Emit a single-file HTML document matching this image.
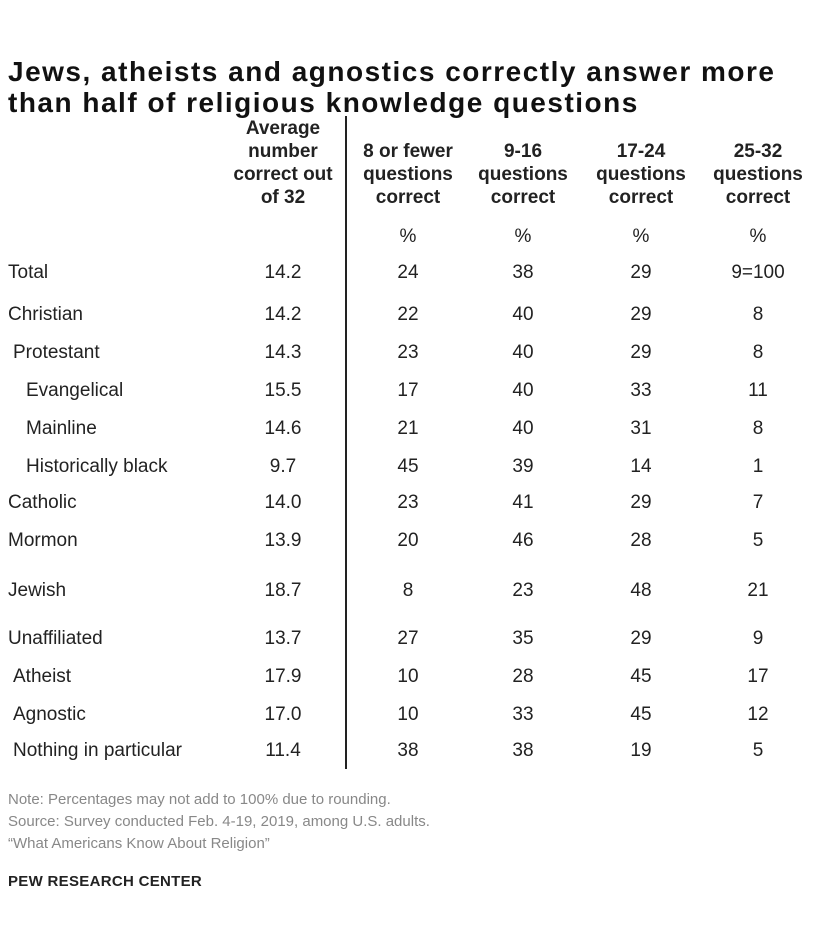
<!DOCTYPE html>
<html><head><meta charset="utf-8">
<style>
body{margin:0;width:836px;height:930px;background:#fff;font-family:"Liberation Sans",Arial,sans-serif;color:#222;position:relative;overflow:hidden}
.a{position:absolute;white-space:nowrap}
.t{font-size:28px;font-weight:bold;line-height:31px;left:8px;top:56px;color:#111;letter-spacing:1.5px}
.h{font-size:19px;font-weight:bold;line-height:23px;text-align:center;transform:translateX(-50%)}
.c{font-size:19px;transform:translate(-50%,-50%)}
.l{font-size:19px;transform:translateY(-50%)}
.n{font-size:15px;color:#888;left:8px}
</style></head><body>
<div class="a t">Jews, atheists and agnostics correctly answer more<br>than half of religious knowledge questions</div>
<div class="a h" style="left:283px;top:117px">Average<br>number<br>correct out<br>of 32</div>
<div class="a h" style="left:408px;top:140px">8 or fewer<br>questions<br>correct</div>
<div class="a h" style="left:523px;top:140px">9-16<br>questions<br>correct</div>
<div class="a h" style="left:641px;top:140px">17-24<br>questions<br>correct</div>
<div class="a h" style="left:758px;top:140px">25-32<br>questions<br>correct</div>
<div class="a" style="left:345px;top:116px;width:2px;height:653px;background:#222"></div>
<div id="tbl"></div>
<div class="a n" style="top:791px">Note: Percentages may not add to 100% due to rounding.</div>
<div class="a n" style="top:813px">Source: Survey conducted Feb. 4-19, 2019, among U.S. adults.</div>
<div class="a n" style="top:835px">“What Americans Know About Religion”</div>
<div class="a" style="left:8px;top:873px;font-size:15px;font-weight:bold;color:#222;letter-spacing:0.3px">PEW RESEARCH CENTER</div>
<script>
const labels=["Total","Christian","Protestant","Evangelical","Mainline","Historically black","Catholic","Mormon","Jewish","Unaffiliated","Atheist","Agnostic","Nothing in particular"];
const indents=[0,0,5,18,18,18,0,0,0,0,5,5,5];
const rowY=[273,315,353,391,429,467,503,541,591,639,677,715,751];
const avg=["14.2","14.2","14.3","15.5","14.6","9.7","14.0","13.9","18.7","13.7","17.9","17.0","11.4"];
const low=["24","22","23","17","21","45","23","20","8","27","10","10","38"];
const mid=["38","40","40","40","40","39","41","46","23","35","28","33","38"];
const high=["29","29","29","33","31","14","29","28","48","29","45","45","19"];
const top4=["9=100","8","8","11","8","1","7","5","21","9","17","12","5"];
const colX=[283,408,523,641,758];
const t=document.getElementById('tbl');
function add(cls,x,y,txt,name){const d=document.createElement('div');d.className='a '+cls;d.style.left=x+'px';d.style.top=y+'px';d.textContent=txt;


t.appendChild(d);}
[1,2,3,4].forEach(i=>add('c',colX[i],237,'%','percent-label'));
labels.forEach((lab,i)=>{
 add('l',8+indents[i],rowY[i],lab,'row-label');
 [avg,low,mid,high,top4].forEach((arr,j)=>add('c',colX[j],rowY[i],arr[i],'cell-value'));
});
</script>
</body></html>
